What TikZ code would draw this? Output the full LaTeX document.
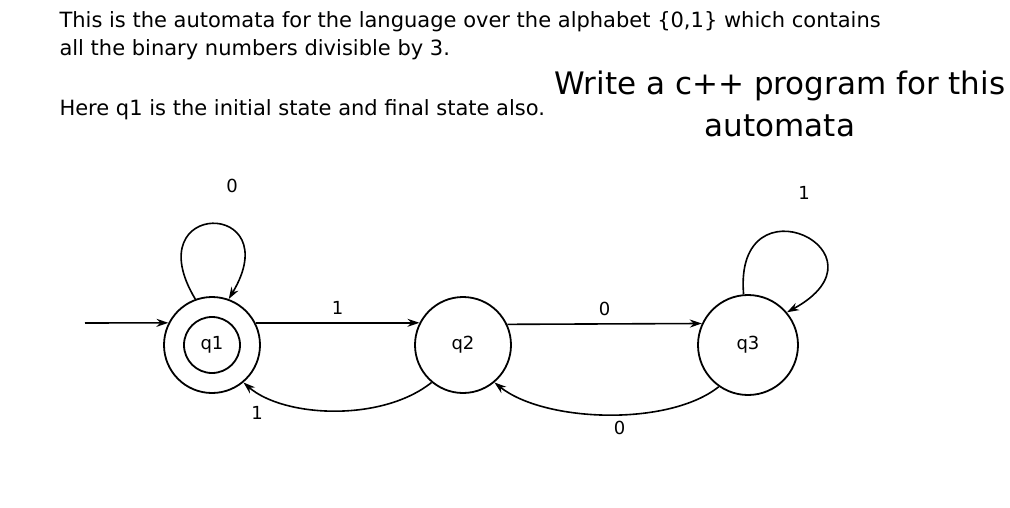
\documentclass[tikz,border=0pt]{standalone}
\usepackage{fontspec}
\setmainfont{DejaVu Sans}
\usetikzlibrary{arrows.meta}
\begin{document}
\begin{tikzpicture}[x=1pt,y=-1pt,
  st/.style={circle,draw,line width=1.8pt,minimum size=96pt,inner sep=0pt,font=\fontsize{18}{18}\selectfont},
  ed/.style={line width=1.6pt,-{Stealth[length=12pt,width=8pt]}},
  lb/.style={font=\fontsize{18}{18}\selectfont}]
\useasboundingbox (0,0) rectangle (1010,507);
\node[anchor=west,font=\fontsize{21}{28}\selectfont,align=left] (t1) at (56,36) {This is the automata for the language over the alphabet \{0,1\} which contains\\all the binary numbers divisible by 3.};
\node[anchor=west,font=\fontsize{21}{21}\selectfont] (t2) at (56,110) {Here q1 is the initial state and final state also.};
\node[font=\fontsize{31}{42}\selectfont,align=center] (t3) at (780,104) {Write a c++ program for this\\automata};
\node[st] (q1) at (212,345) {};
\node[circle,draw,line width=1.8pt,minimum size=56pt,inner sep=0pt,font=\fontsize{18}{18}\selectfont] (q1i) at (212,345) {q1};
\node[st] (q2) at (463,345) {q2};
\node[st,minimum size=100pt] (q3) at (748,345) {q3};
\coordinate (s) at (85,323);
\draw[ed] (s) -- (q1.180-27);
\draw[ed] (q1.27) -- node[lb,above=4pt] {1} (q2.153);
\draw[ed] (q2.25) -- node[lb,above=4pt] {0} (q3.155);
\draw[ed] (q3.-125) .. controls +(-50,40) and +(50,40) .. node[lb,below=2pt,pos=0.45] {0} (q2.-50);
\draw[ed] (q2.-130) .. controls +(-50,40) and +(40,35) .. node[lb,below=10pt,pos=0.9] {1} (q1.-50);
\draw[ed] (q1.110) .. controls +(-60,-100) and +(60,-100) .. (q1.70);
\node[lb] (l0) at (232,186) {0};
\draw[ed] (q3.95) .. controls +(-10,-120) and +(110,-60) .. (q3.40);
\node[lb] (l1) at (804,193) {1};
\end{tikzpicture}
\end{document}
